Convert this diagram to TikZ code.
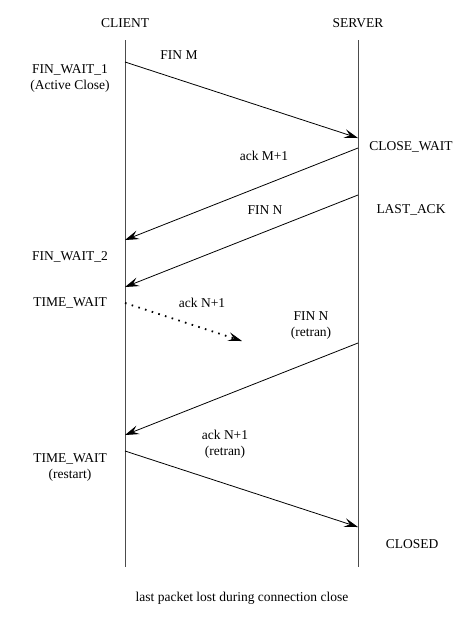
\documentclass[tikz,border=0pt]{standalone}
\usepackage{fontspec}
\setmainfont{Liberation Serif}
\usetikzlibrary{arrows.meta}

\begin{document}
\begin{tikzpicture}[x=1pt,y=-1pt,
  every node/.style={font=\fontsize{13.5}{16}\selectfont, inner sep=0pt, align=center},
  life/.style={draw=black!70, line width=1pt},
  msg/.style={-{Stealth[length=14pt,width=9pt,inset=5.5pt]}, line width=0.8pt},
  lost/.style={msg, line width=1.8pt, dash pattern=on 1.6pt off 5.4pt,
    -{Stealth[length=14pt,width=9pt,inset=5.5pt,line width=0.8pt]}}]
\useasboundingbox (0,0) rectangle (474,630);

\node (client) at (125,23) {CLIENT};
\node (server) at (358,23) {SERVER};
\coordinate (ctop) at (125,40);
\coordinate (cbot) at (125,567);
\coordinate (stop) at (358,40);
\coordinate (sbot) at (358,567);
\draw[life] (ctop) -- (cbot);
\draw[life] (stop) -- (sbot);

% states
\node (finwait1) at (70,78) {FIN\_WAIT\_1\\(Active Close)};
\node (closewait) at (411,147) {CLOSE\_WAIT};
\node (lastack) at (411,210) {LAST\_ACK};
\node (finwait2) at (70,257) {FIN\_WAIT\_2};
\node (timewait) at (70,303) {TIME\_WAIT};
\node (timewait2) at (70,467) {TIME\_WAIT\\(restart)};
\node (closed) at (412,544) {CLOSED};

% packets
\coordinate (finm1) at (125,62);   \coordinate (finm2) at (358,138);
\coordinate (ackm1) at (358,148);  \coordinate (ackm2) at (125,240);
\coordinate (finn1) at (358,195);  \coordinate (finn2) at (125,287);
\coordinate (ackn1) at (125,303);  \coordinate (ackn2) at (242,341);
\coordinate (refin1) at (358,343); \coordinate (refin2) at (125,435);
\coordinate (reack1) at (125,451); \coordinate (reack2) at (358,527);

\draw[msg] (finm1) -- (finm2);
\draw[msg] (ackm1) -- (ackm2);
\draw[msg] (finn1) -- (finn2);
\draw[lost] (ackn1) -- (ackn2);
\draw[msg] (refin1) -- (refin2);
\draw[msg] (reack1) -- (reack2);

\node (finmlbl) at (179,55) {FIN M};
\node (ackmlbl) at (264,156) {ack M+1};
\node (finnlbl) at (265,210) {FIN N};
\node (acknlbl) at (202,303) {ack N+1};
\node (refinlbl) at (311,326) {FIN N\\(retran)};
\node (reacklbl) at (225,444) {ack N+1\\(retran)};

\node (caption) at (242,598) {last packet lost during connection close};
\end{tikzpicture}
\end{document}
